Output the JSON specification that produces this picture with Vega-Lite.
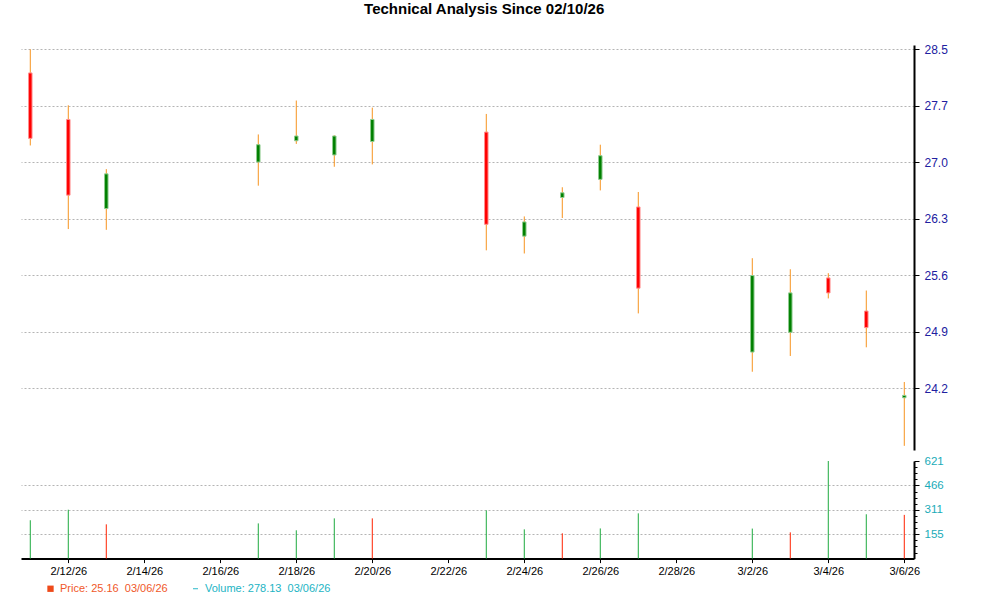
{
  "$schema": "https://vega.github.io/schema/vega-lite/v6.json",
  "background": "white",
  "padding": {"left": 21, "top": 2, "right": 5, "bottom": 5},
  "title": {"text": "Technical Analysis Since 02/10/26", "font": "Liberation Sans", "fontSize": 15, "fontWeight": "bold", "color": "black", "anchor": "middle", "offset": 26},
  "config": {"view": {"stroke": null}, "axis": {"labelFont": "Liberation Sans"}, "legend": {"labelFont": "Liberation Sans"}},
  "spacing": 5,
  "resolve": {"scale": {"y": "independent", "fill": "independent", "stroke": "independent", "color": "independent", "shape": "independent"}},
  "datasets": {
    "ohlc": [
      {"date": "2026-02-11", "open": 28.20, "high": 28.50, "low": 27.28, "close": 27.37, "volume": 244, "dir": "down", "volDir": "up"},
      {"date": "2026-02-12", "open": 27.61, "high": 27.79, "low": 26.22, "close": 26.65, "volume": 311, "dir": "down", "volDir": "up"},
      {"date": "2026-02-13", "open": 26.48, "high": 26.98, "low": 26.21, "close": 26.92, "volume": 218, "dir": "up", "volDir": "down"},
      {"date": "2026-02-17", "open": 27.07, "high": 27.42, "low": 26.77, "close": 27.29, "volume": 224, "dir": "up", "volDir": "up"},
      {"date": "2026-02-18", "open": 27.34, "high": 27.85, "low": 27.30, "close": 27.40, "volume": 180, "dir": "up", "volDir": "up"},
      {"date": "2026-02-19", "open": 27.16, "high": 27.41, "low": 27.01, "close": 27.40, "volume": 256, "dir": "up", "volDir": "up"},
      {"date": "2026-02-20", "open": 27.33, "high": 27.76, "low": 27.04, "close": 27.61, "volume": 256, "dir": "up", "volDir": "down"},
      {"date": "2026-02-23", "open": 27.45, "high": 27.68, "low": 25.95, "close": 26.28, "volume": 307, "dir": "down", "volDir": "up"},
      {"date": "2026-02-24", "open": 26.13, "high": 26.38, "low": 25.91, "close": 26.31, "volume": 186, "dir": "up", "volDir": "up"},
      {"date": "2026-02-25", "open": 26.62, "high": 26.75, "low": 26.36, "close": 26.68, "volume": 161, "dir": "up", "volDir": "down"},
      {"date": "2026-02-26", "open": 26.85, "high": 27.29, "low": 26.71, "close": 27.15, "volume": 192, "dir": "up", "volDir": "up"},
      {"date": "2026-02-27", "open": 26.50, "high": 26.69, "low": 25.15, "close": 25.47, "volume": 288, "dir": "down", "volDir": "up"},
      {"date": "2026-03-02", "open": 24.66, "high": 25.85, "low": 24.41, "close": 25.63, "volume": 191, "dir": "up", "volDir": "up"},
      {"date": "2026-03-03", "open": 24.91, "high": 25.71, "low": 24.61, "close": 25.41, "volume": 167, "dir": "up", "volDir": "down"},
      {"date": "2026-03-04", "open": 25.60, "high": 25.66, "low": 25.34, "close": 25.41, "volume": 621, "dir": "down", "volDir": "up"},
      {"date": "2026-03-05", "open": 25.18, "high": 25.44, "low": 24.72, "close": 24.97, "volume": 282, "dir": "down", "volDir": "up"},
      {"date": "2026-03-06", "open": 24.08, "high": 24.28, "low": 23.47, "close": 24.11, "volume": 278.13, "dir": "up", "volDir": "down"}
    ],
    "legendItems": [
      {"series": "Price: 25.16\u00a0 03/06/26"},
      {"series": "Volume: 278.13\u00a0 03/06/26"}
    ]
  },
  "vconcat": [
    {
      "width": 893,
      "height": 405,
      "data": {"name": "ohlc"},
      "encoding": {
        "x": {"field": "date", "type": "temporal", "scale": {"type": "utc", "padding": 0, "domain": [{"year": 2026, "month": 2, "date": 10, "hours": 18, "minutes": 8, "utc": true}, {"year": 2026, "month": 3, "date": 6, "hours": 6, "minutes": 8, "utc": true}]}, "axis": null}
      },
      "layer": [
        {
          "mark": {"type": "rule", "color": "#F7931E", "strokeWidth": 1},
          "encoding": {
            "y": {"field": "low", "type": "quantitative", "scale": {"domain": [23.4174, 28.5545], "nice": false, "zero": false},
              "axis": {"orient": "right", "title": null, "values": [24.2, 24.91667, 25.63333, 26.35, 27.06667, 27.78333, 28.5], "labelExpr": "format(datum.value - 0.04, '.1f')", "grid": true, "gridColor": "#b4b4b4", "gridDash": [2, 2], "gridWidth": 1, "domain": true, "domainColor": "black", "domainWidth": 2, "ticks": true, "tickColor": "black", "tickSize": 5, "tickWidth": 1, "labelColor": "#2020A0", "labelFontSize": 12, "labelPadding": 5, "labelOverlap": false}},
            "y2": {"field": "high"}
          }
        },
        {
          "mark": {"type": "bar", "width": 3.5, "strokeWidth": 1},
          "encoding": {
            "y": {"field": "open", "type": "quantitative", "title": null},
            "y2": {"field": "close"},
            "fill": {"field": "dir", "type": "nominal", "scale": {"domain": ["up", "down"], "range": ["#008000", "#FF0000"]}, "legend": null},
            "stroke": {"field": "dir", "type": "nominal", "scale": {"domain": ["up", "down"], "range": ["#90CC90", "#FF9090"]}, "legend": null}
          }
        }
      ]
    },
    {
      "width": 893,
      "height": 97.6,
      "resolve": {"scale": {"color": "independent", "shape": "independent", "stroke": "independent"}},
      "layer": [
        {
          "data": {"name": "ohlc"},
          "mark": {"type": "rule", "strokeWidth": 1},
          "encoding": {
            "x": {"field": "date", "type": "temporal", "scale": {"type": "utc", "padding": 0, "domain": [{"year": 2026, "month": 2, "date": 10, "hours": 18, "minutes": 8, "utc": true}, {"year": 2026, "month": 3, "date": 6, "hours": 6, "minutes": 8, "utc": true}]},
              "axis": {"title": null, "values": [
                {"year": 2026, "month": 2, "date": 12, "utc": true},
                {"year": 2026, "month": 2, "date": 14, "utc": true},
                {"year": 2026, "month": 2, "date": 16, "utc": true},
                {"year": 2026, "month": 2, "date": 18, "utc": true},
                {"year": 2026, "month": 2, "date": 20, "utc": true},
                {"year": 2026, "month": 2, "date": 22, "utc": true},
                {"year": 2026, "month": 2, "date": 24, "utc": true},
                {"year": 2026, "month": 2, "date": 26, "utc": true},
                {"year": 2026, "month": 2, "date": 28, "utc": true},
                {"year": 2026, "month": 3, "date": 2, "utc": true},
                {"year": 2026, "month": 3, "date": 4, "utc": true},
                {"year": 2026, "month": 3, "date": 6, "utc": true}
              ], "format": "%-m/%-d/%y", "grid": false, "domainColor": "black", "domainWidth": 2, "tickColor": "black", "tickSize": 4, "tickWidth": 1, "labelColor": "black", "labelFontSize": 11, "labelPadding": 3, "labelOverlap": false, "labelFlush": false}},
            "y": {"field": "volume", "type": "quantitative", "scale": {"domain": [0, 621], "nice": false, "zero": true},
              "axis": {"orient": "right", "title": null, "values": [38.8125, 77.625, 116.4375, 155.25, 194.0625, 232.875, 271.6875, 310.5, 349.3125, 388.125, 426.9375, 465.75, 504.5625, 543.375, 582.1875, 621],
                "labelExpr": "datum.value % 155.25 == 0 ? format(datum.value, '.0f') : ''",
                "grid": true, "gridColor": "#b4b4b4", "gridDash": [2, 2], "gridWidth": 1,
                "gridOpacity": {"condition": {"test": "datum.value % 155.25 == 0 && datum.value < 600", "value": 1}, "value": 0},
                "tickSize": {"condition": {"test": "datum.value % 155.25 == 0", "value": 5}, "value": 3},
                "domainColor": "black", "domainWidth": 2, "tickColor": "black", "tickWidth": 1,
                "labelColor": "#1AABB8", "labelFontSize": 11.5, "labelPadding": 5, "labelOverlap": false}},
            "y2": {"datum": 0},
            "stroke": {"field": "volDir", "type": "nominal", "scale": {"domain": ["up", "down"], "range": ["#1DAA3F", "#FF2200"]}, "legend": null}
          }
        },
        {
          "data": {"name": "legendItems"},
          "mark": {"type": "point", "filled": true, "opacity": 0},
          "encoding": {
            "color": {"field": "series", "type": "nominal", "scale": {"domain": ["Price: 25.16\u00a0 03/06/26", "Volume: 278.13\u00a0 03/06/26"], "range": ["#EE4A1A", "#1FB4C6"]},
              "legend": {"orient": "none", "legendX": 24, "legendY": 122, "direction": "horizontal", "title": null, "symbolSize": 40, "symbolOpacity": 1, "symbolStrokeWidth": 0, "labelFontSize": 11, "labelOffset": 4, "columnPadding": 22, "padding": 0, "labelLimit": 300,
                "encode": {"labels": {"update": {"fill": {"signal": "indexof(datum.label, 'Price') === 0 ? '#F0582A' : '#22B4C4'"}}}}}},
            "shape": {"field": "series", "type": "nominal", "scale": {"domain": ["Price: 25.16\u00a0 03/06/26", "Volume: 278.13\u00a0 03/06/26"], "range": ["square", "M-0.8,-0.15H0.8V0.15H-0.8Z"]}}
          }
        }
      ]
    }
  ]
}
